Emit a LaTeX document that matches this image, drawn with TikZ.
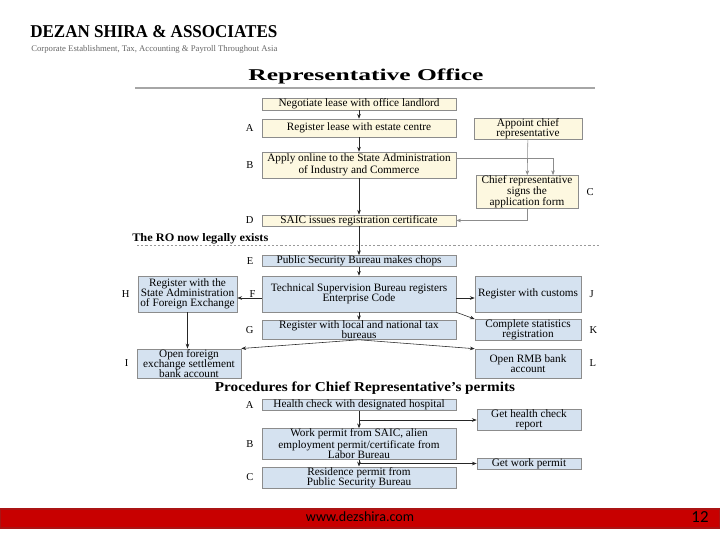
\documentclass[tikz,border=0pt]{standalone}
\usepackage{fontspec}
\setmainfont{Liberation Serif}
\newfontfamily\rodape{Carlito}
\usetikzlibrary{arrows.meta,positioning}
\definecolor{creme}{RGB}{253,248,224}
\definecolor{azulclaro}{RGB}{213,226,240}
\definecolor{borda}{RGB}{140,140,140}
\definecolor{vermelho}{RGB}{200,0,0}
\definecolor{vermelhoesc}{RGB}{170,20,20}

\begin{document}
\begin{tikzpicture}[x=0.025cm,y=-0.025cm,
  bloco/.style={draw=borda,fill=creme,align=center,inner xsep=1pt,inner ysep=0.3pt,font=\fontsize{8}{7.3}\selectfont,minimum width=4.85cm},
  blocoazul/.style={bloco,fill=azulclaro},
  letra/.style={font=\fontsize{7.5}{8}\selectfont,inner sep=0pt},
  seta/.style={-{Stealth[length=1.2mm,width=0.9mm]},draw=black!85,thin},
  setacinza/.style={seta,draw=black!45},
  node distance=0.2cm
]
\useasboundingbox (0,0) rectangle (720,540);

% cabecalho
\node[anchor=west,inner sep=0pt] (empresa) at (30,32) {\resizebox{6.175cm}{0.3cm}{\bfseries DEZAN SHIRA \& ASSOCIATES}};
\node[anchor=west,inner sep=0pt,text=black!60] (lema) at (31,49) {\resizebox{6.15cm}{!}{Corporate Establishment, Tax, Accounting \& Payroll Throughout Asia}};
\node[inner sep=0pt] (titulo) at (366,76) {\resizebox{5.875cm}{0.29cm}{\bfseries Representative Office}};
\draw[black!35,thick] (135,88) -- (595,88);

% escritorio de representacao
\node[bloco,minimum height=0.3cm] (negocia) at (359,104) {Negotiate lease with office landlord};
\node[bloco,minimum height=0.45cm] (regA) at (359,128) {Register lease with estate centre};
\node[bloco,minimum width=2.7cm,minimum height=0.475cm] (nomeia) at (528,128.5) {Appoint chief\\representative};
\node[bloco,minimum height=0.65cm] (aplicaB) at (359,165) {Apply online to the State Administration\\of Industry and Commerce};
\node[bloco,minimum width=2.55cm,minimum height=0.75cm] (assinaC) at (527,192) {Chief representative\\signs the\\application form};
\node[bloco,minimum height=0.275cm] (saicD) at (359,220.5) {SAIC issues registration certificate};
\node[letra,left=of regA] {A};
\node[letra,left=of aplicaB] {B};
\node[letra,right=of assinaC] {C};
\node[letra,left=of saicD] {D};

\node[anchor=west,inner sep=0pt] (existe) at (132,239) {\resizebox{3.4cm}{0.2cm}{\bfseries The RO now legally exists}};
\draw[black!40,dashed,dash pattern=on 1.5pt off 1.5pt] (137,245) -- (600,245);

\node[blocoazul,minimum height=0.25cm] (carimboE) at (359,261) {Public Security Bureau makes chops};
\node[blocoazul,minimum height=0.9cm] (tecnicoF) at (359,294) {Technical Supervision Bureau registers\\Enterprise Code};
\node[blocoazul,minimum width=2.475cm,minimum height=0.9cm] (cambioH) at (187.5,294) {Register with the\\State Administration\\of Foreign Exchange};
\node[blocoazul,minimum width=2.65cm,minimum height=0.9cm] (alfandegaJ) at (528,294) {Register with customs};
\node[blocoazul,minimum height=0.45cm] (impostoG) at (359,330) {Register with local and national tax\\bureaus};
\node[blocoazul,minimum width=2.65cm,minimum height=0.45cm] (estatK) at (528,330) {Complete statistics\\registration};
\node[blocoazul,minimum width=2.6cm,minimum height=0.725cm] (contaI) at (189,363.5) {Open foreign\\exchange settlement\\bank account};
\node[blocoazul,minimum width=2.65cm,minimum height=0.725cm] (contaL) at (528,363.5) {Open RMB bank\\account};
\node[letra,left=of carimboE] {E};
\node[letra,left=0.15cm of tecnicoF] {F};
\node[letra,left=of cambioH] {H};
\node[letra,right=of alfandegaJ] {J};
\node[letra,left=of impostoG] {G};
\node[letra,right=of estatK] {K};
\node[letra,left=of contaI] {I};
\node[letra,right=of contaL] {L};

% permissoes do representante
\node[inner sep=0pt] (permissoes) at (365,388) {\resizebox{7.5cm}{0.24cm}{\bfseries Procedures for Chief Representative's permits}};
\node[blocoazul,minimum height=0.25cm] (saudeA) at (359,405) {Health check with designated hospital};
\node[blocoazul,minimum width=2.6cm,minimum height=0.45cm] (laudo) at (529,420) {Get health check\\report};
\node[blocoazul,minimum height=0.7cm] (trabalhoB) at (359,444) {Work permit from SAIC, alien\\employment permit/certificate from\\Labor Bureau};
\node[blocoazul,minimum width=2.6cm,minimum height=0.225cm] (permTrab) at (529,463.5) {Get work permit};
\node[blocoazul,minimum height=0.475cm] (residC) at (359,477.5) {Residence permit from\\Public Security Bureau};
\node[letra,left=of saudeA] {A};
\node[letra,left=of trabalhoB] {B};
\node[letra,left=of residC] {C};

% ligacoes
\draw[seta] (negocia) -- (regA);
\draw[seta] (regA) -- (aplicaB);
\draw[seta] (aplicaB) -- (saicD);
\draw[setacinza] ([yshift=0.175cm]aplicaB.east) -| ([xshift=0.65cm]assinaC.north);
\draw[setacinza] (nomeia) -- (assinaC);
\draw[setacinza] (assinaC.south) |- (saicD.east);
\draw[seta] (saicD) -- (carimboE);
\draw[seta] (carimboE) -- (tecnicoF);
\draw[seta] ([yshift=-0.1cm]tecnicoF.west) -- ([yshift=-0.1cm]cambioH.east);
\draw[seta] ([yshift=-0.1cm]tecnicoF.east) -- ([yshift=-0.1cm]alfandegaJ.west);
\draw[seta] (tecnicoF.south east) -- (estatK.north west);
\draw[seta] (tecnicoF) -- (impostoG);
\draw[seta] (cambioH) -- (contaI.north -| cambioH);
\draw[seta] (impostoG.south) -- (contaI.north east);
\draw[seta] (impostoG.south) -- (contaL.north west);
\draw[seta] (saudeA) -- (trabalhoB);
\draw[seta] (saudeA.south |- laudo.west) -- (laudo.west);
\draw[seta] (trabalhoB) -- (residC);
\draw[seta] (trabalhoB.south |- permTrab.west) -- (permTrab.west);

% rodape
\draw[fill=vermelho,draw=vermelhoesc,line width=1pt] (0,509) rectangle (720,528);
\node[font=\rodape\fontsize{10}{12}\selectfont] (site) at (360,517) {www.dezshira.com};
\node[font=\rodape\fontsize{12}{14}\selectfont] (pagina) at (700,517) {12};
\end{tikzpicture}
\end{document}
